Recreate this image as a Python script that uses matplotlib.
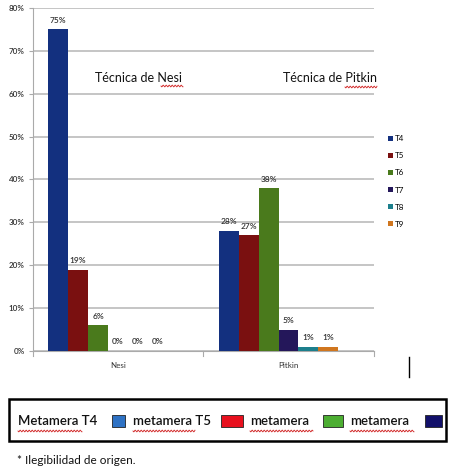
import matplotlib
matplotlib.use("Agg")
import matplotlib.pyplot as plt
from matplotlib.patches import Rectangle
import numpy as np

plt.rcParams['font.family'] = ['Lato', 'DejaVu Sans']

categories = ["Nesi", "Pitkin"]
series = ["T4", "T5", "T6", "T7", "T8", "T9"]
values = {
    "T4": [75, 28],
    "T5": [19, 27],
    "T6": [6, 38],
    "T7": [0, 5],
    "T8": [0, 1],
    "T9": [0, 1],
}
colors = ["#13307f", "#7a1010", "#4a7a1c", "#24175a", "#1c7f8c", "#d0761f"]
yticks = [0, 10, 20, 30, 40, 50, 60, 70, 80]
ytick_labels = ["0%", "10%", "20%", "30%", "40%", "50%", "60%", "70%", "80%"]
annotations = ["Técnica de Nesi", "Técnica de Pitkin"]
bottom_labels = ["Metamera T4", "metamera T5", "metamera", "metamera"]
bottom_colors = ["#2e72c4", "#e8101e", "#4cae32", "#12106a"]
footnote = "* Ilegibilidad de origen."

W, H = 456, 476
fig = plt.figure(figsize=(4.56, 4.76), dpi=100)
ax = fig.add_axes([33/W, 1-351/H, (374-33)/W, (351-8)/H])

x = np.arange(len(categories))
bw = 0.117
offset = -0.06
for i, s in enumerate(series):
    pos = x + offset + (i - 2.5) * bw
    ax.bar(pos, values[s], width=bw, color=colors[i], label=s, zorder=3)
    for p, v in zip(pos, values[s]):
        ax.text(p, v + 1.3, f"{v}%", ha="center", va="bottom", fontsize=6,
                color="#333333", fontweight="semibold", zorder=4)

ax.set_xlim(-0.5, 1.5)
ax.set_ylim(0, 80)
ax.set_yticks(yticks)
ax.set_yticklabels(ytick_labels, fontsize=5.8, color="#333333", fontweight="semibold")
ax.set_xticks(x)
ax.set_xticklabels(categories, fontsize=5.8, color="#333333")
ax.tick_params(axis="x", length=0, pad=8)
ax.tick_params(axis="y", length=3, color="#aaaaaa", pad=3)
for t in [-0.5, 0.5, 1.5]:
    ax.plot([t, t], [0, -1.2], color="#aaaaaa", lw=0.8, clip_on=False)
ax.yaxis.grid(True, color="#bbbbbb", lw=1.2, zorder=0)
for sp in ["top", "right"]:
    ax.spines[sp].set_visible(False)
ax.spines["left"].set_color("#aaaaaa")
ax.spines["bottom"].set_color("#aaaaaa")

ax.text(0.12, 63.6, annotations[0], fontsize=9, ha="center", va="center", color="#111111")
ax.text(1.24, 63.6, annotations[1], fontsize=9, ha="center", va="center", color="#111111")

ax.legend(loc="upper left", bbox_to_anchor=(1.02, 0.65), frameon=False,
          fontsize=5.8, handlelength=0.55, handleheight=0.55, handletextpad=0.3,
          labelspacing=1.25)


def wavy(x0, x1, y):
    xs = np.linspace(x0, x1, int((x1 - x0) * 2) + 2)
    ys = y + 0.9 * np.sin((xs - x0) * np.pi / 1.5)
    fig.add_artist(plt.Line2D(xs / W, 1 - ys / H, color="#d02020", lw=0.6))


# spell-check underlines
for (a, b, yy) in [(161, 183, 86), (345, 377, 87), (18, 82, 431), (133, 195, 431),
                   (250, 313, 431), (350, 414, 431)]:
    wavy(a, b, yy)

# vertical mark
fig.add_artist(plt.Line2D([409/W, 409/W], [1-357/H, 1-377/H], color="black", lw=1))

# bottom legend box
fig.add_artist(Rectangle((9/W, 1-441/H), (446-9)/W, (441-399)/H,
                         transform=fig.transFigure, fill=False, ec="black", lw=1.8))
ty = 1 - 421/H
label_x = [18, 133, 250, 350]
rects = [(112, 125), (221, 243), (323, 343), (425, 442)]
for lx, lab in zip(label_x, bottom_labels):
    fig.text(lx/W, ty, lab, fontsize=9.5, ha="left", va="center", color="#111111",
             fontweight="semibold")
for (r0, r1), c in zip(rects, bottom_colors):
    fig.add_artist(Rectangle((r0/W, 1-427/H), (r1-r0)/W, 12/H,
                             transform=fig.transFigure, fc=c, ec="#222222", lw=0.6))

fig.text(17/W, 1-461/H, footnote, fontsize=8.5, ha="left", va="center", color="#111111")

fig.savefig("out.png", dpi=100)
